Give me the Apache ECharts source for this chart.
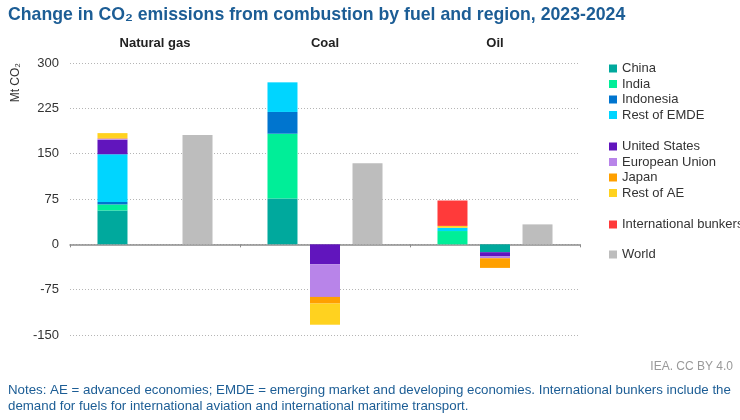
<!DOCTYPE html>
<html>
<head>
<meta charset="utf-8">
<script src="https://cdn.jsdelivr.net/npm/echarts@6/dist/echarts.min.js"></script>
<style>
  html, body { margin: 0; padding: 0; background: #fff; }
  #chart { width: 740px; height: 420px; }
</style>
</head>
<body>
<div id="chart"></div>
<script>
// fuels on the x axis
var fuels = ["Natural gas", "Coal", "Oil"];
var yTicks = [-150, 300, 75];

// Mt CO2 change by region, in order [gas, coal, oil]
var china = [56, 76, -13];
var india = [10, 107, 22];
var indonesia = [4, 36, 0];
var restEMDE = [79, 49, 5.5];
var unitedStates = [24, -33, -7];
var europeanUnion = [2, -54, -3];
var japan = [1, -11, -16];
var restAE = [8, -35, 3];
var bunkers = [0, 0, 42];
var world = [181, 134, 33];

var regionNames = ["China", "India", "Indonesia", "Rest of EMDE", "United States", "European Union", "Japan", "Rest of AE", "International bunkers"];
var regionValues = [china, india, indonesia, restEMDE, unitedStates, europeanUnion, japan, restAE, bunkers];
var regionColors = ["#00a99d", "#00ee98", "#0075cf", "#00d5ff", "#6115bd", "#b884e9", "#ffa000", "#ffd21f", "#ff3a3a"];

var FONT = "Liberation Sans, Arial, sans-serif";
var BLUE = "#1c5d95";

var series = [];
// positive contributions stack in the first column, negative in the second
["pos", "neg"].forEach(function (stack) {
  regionNames.forEach(function (name, i) {
    series.push({
      name: name,
      type: "bar",
      stack: stack,
      barWidth: 30,
      itemStyle: { color: regionColors[i] },
      data: regionValues[i].map(function (v) {
        if (stack == "pos") return v > 0 ? v : "-";
        return v < 0 ? v : "-";
      })
    });
  });
});
series.push({
  name: "World",
  type: "bar",
  stack: "world",
  barWidth: 30,
  barGap: "41.7%",
  itemStyle: { color: "#bdbdbd" },
  data: world
});

function legendBlock(top, names) {
  return {
    orient: "vertical",
    left: 604,
    top: top,
    icon: "rect",
    itemWidth: 8,
    itemHeight: 8,
    itemGap: 2.5,
    selectedMode: false,
    textStyle: { fontFamily: FONT, fontSize: 13, color: "#333", lineHeight: 13 },
    data: names
  };
}

var chart = echarts.init(document.getElementById("chart"));
chart.setOption({
  animation: false,
  textStyle: { fontFamily: FONT },
  title: {
    text: "Change in CO\u2082 emissions from combustion by fuel and region, 2023-2024",
    left: 3,
    top: 1,
    textStyle: { fontFamily: FONT, fontSize: 17.7, fontWeight: "bold", color: BLUE }
  },
  legend: [
    legendBlock(57, regionNames.slice(0, 4)),
    legendBlock(135, regionNames.slice(4, 8)),
    legendBlock(213, ["International bunkers"]),
    legendBlock(243, ["World"])
  ],
  grid: { left: 70, right: 160, top: 63, bottom: 85 },
  xAxis: [
    {
      type: "category",
      data: fuels,
      axisLine: { onZero: true, lineStyle: { color: "#8c8c8c", width: 1.5 } },
      axisTick: { show: true, length: 3, lineStyle: { color: "#8c8c8c" } },
      axisLabel: { show: false }
    },
    {
      type: "category",
      data: fuels,
      position: "top",
      axisLine: { show: false },
      axisTick: { show: false },
      axisLabel: { margin: 13, fontSize: 13, fontWeight: "bold", color: "#222", fontFamily: FONT }
    }
  ],
  yAxis: {
    type: "value",
    min: yTicks[0],
    max: yTicks[1],
    interval: yTicks[2],
    axisLine: { show: false },
    axisTick: { show: false },
    axisLabel: { fontSize: 13, color: "#333", margin: 11, fontFamily: FONT },
    splitLine: { lineStyle: { type: [1, 2], color: "#b5b5b5" } }
  },
  series: series,
  graphic: [
    {
      type: "text",
      left: 10,
      top: 63,
      rotation: Math.PI / 2,
      style: { text: "Mt CO\u2082", font: "12px " + FONT, fill: "#333" }
    },
    {
      type: "text",
      right: 7,
      top: 361,
      style: { text: "IEA. CC BY 4.0", font: "12px " + FONT, fill: "#999" }
    },
    {
      type: "text",
      left: 8,
      top: 382,
      style: {
        text: "Notes: AE = advanced economies; EMDE = emerging market and developing economies. International bunkers include the\ndemand for fuels for international aviation and international maritime transport.",
        font: "13.3px " + FONT,
        lineHeight: 16,
        fill: BLUE
      }
    }
  ]
});
</script>
</body>
</html>
